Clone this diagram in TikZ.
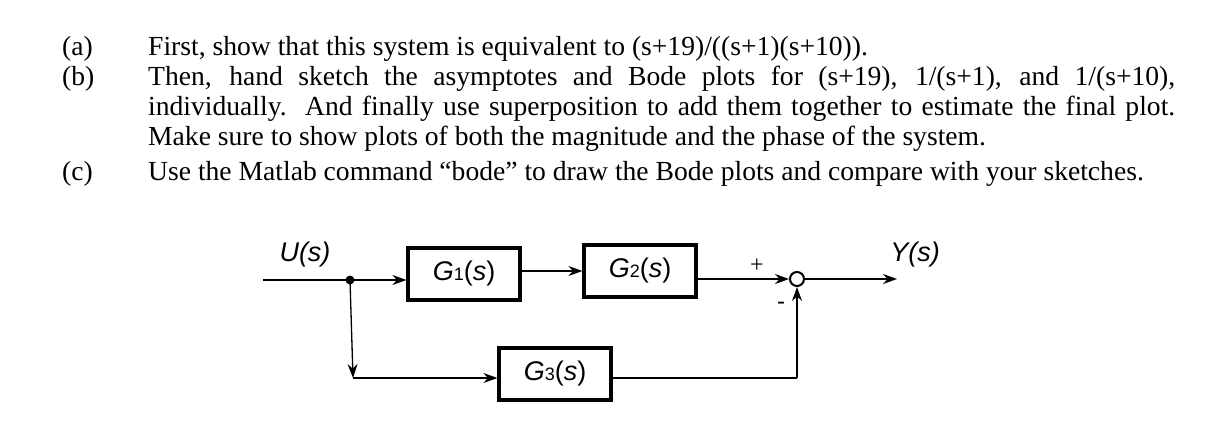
\documentclass[tikz,border=0pt]{standalone}
\usepackage{fontspec}
\setmainfont{Liberation Serif}
\newfontfamily\sansf{Liberation Sans}
\usetikzlibrary{arrows.meta}
\begin{document}
\begin{tikzpicture}[x=1pt,y=-1pt,
  txt/.style={anchor=base west,inner sep=0pt,font=\fontsize{27.6}{30}\selectfont},
  blk/.style={draw,line width=3.2pt,minimum width=112pt,minimum height=52pt,inner sep=0pt,font=\sansf\fontsize{27}{30}\selectfont},
  lbl/.style={font=\sansf\fontsize{27}{30}\selectfont\itshape,inner sep=0pt},
  sig/.style={line width=1.3pt,-{Stealth[length=14pt,width=10pt]}},
  ln/.style={line width=1.3pt}]
\useasboundingbox (0,0) rectangle (1214,429);
\node[txt] (la) at (62,55) {(a)};
\node[txt] (ta) at (148,55) {First, show that this system is equivalent to (s+19)/((s+1)(s+10)).};
\node[txt] (lb) at (62,85) {(b)};
\node[txt] (tb1) at (148,85) {\hbox to 1027pt{Then, hand sketch the asymptotes and Bode plots for (s+19), 1/(s+1), and 1/(s+10),}};
\node[txt] (tb2) at (148,115) {\hbox to 1027pt{individually.\ \ And finally use superposition to add them together to estimate the final plot.}};
\node[txt] (tb3) at (148,145) {Make sure to show plots of both the magnitude and the phase of the system.};
\node[txt] (lc) at (62,180) {(c)};
\node[txt] (tc) at (148,180) {Use the Matlab command “bode” to draw the Bode plots and compare with your sketches.};

\coordinate (in) at (263,280);
\coordinate (j) at (350,280);
\node[blk] (g1) at (464,274) {\textit{G}{\fontsize{18}{20}\selectfont 1}(\textit{s})};
\node[blk] (g2) at (640,271) {\textit{G}{\fontsize{18}{20}\selectfont 2}(\textit{s})};
\node[blk] (g3) at (555,374) {\textit{G}{\fontsize{18}{20}\selectfont 3}(\textit{s})};
\node[draw,circle,line width=2pt,minimum size=14pt,inner sep=0pt] (sum) at (797,279) {};
\coordinate (out) at (897,279);
\coordinate (c1) at (353,378);
\coordinate (c2) at (797,378);
\node[lbl] (u) at (305,255) {U(s)};
\node[lbl] (y) at (915,255) {Y(s)};
\node[font=\fontsize{24}{26}\selectfont,inner sep=0pt] (plus) at (757,266) {+};
\node[font=\sansf\fontsize{24}{26}\selectfont,inner sep=0pt] (minus) at (781,306) {-};

\draw[ln] (in) -- (j);
\fill (j) circle (4.5pt);
\draw[sig] (j) -- (g1.west |- j);
\draw[sig] (g1.east |- g2) -- (g2.west);
\draw[sig] (g2.east |- sum) -- (sum.west);
\draw[sig] (sum.east) -- (out);
\draw[sig] (j) -- (c1);
\draw[sig] (c1) -- (g3.west |- c1);
\draw[ln] (g3.east |- c2) -- (c2);
\draw[sig] (c2) -- (sum.south);
\end{tikzpicture}
\end{document}
